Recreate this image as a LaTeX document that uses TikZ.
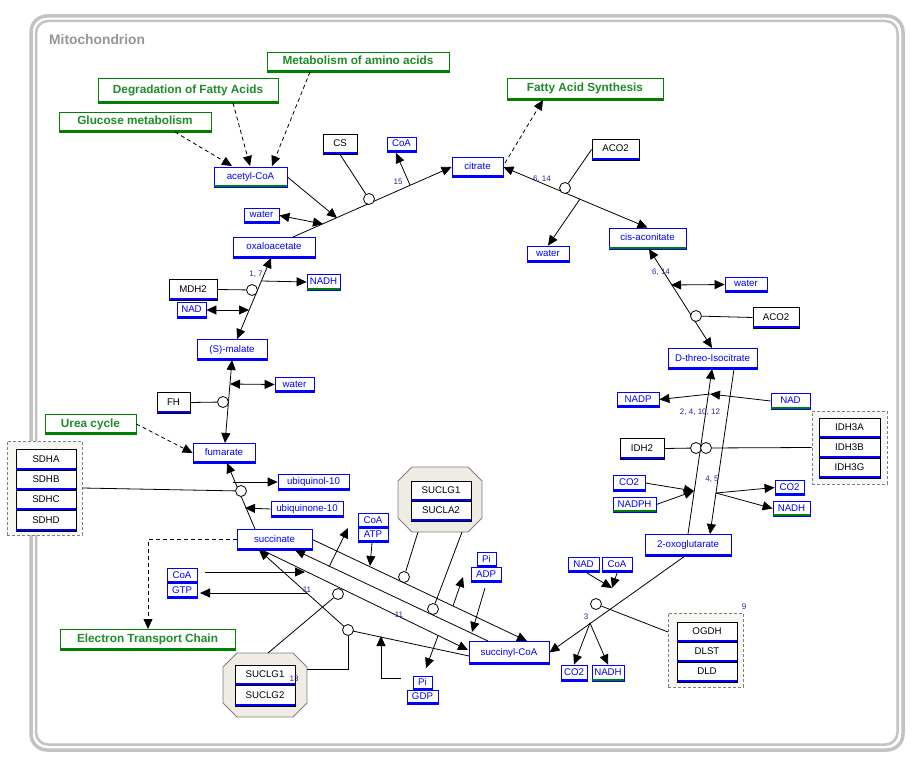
\documentclass[tikz,border=0pt]{standalone}
\usepackage{fontspec}
\setmainfont{Liberation Sans}
\usetikzlibrary{arrows.meta}
\definecolor{pvblue}{RGB}{0,0,255}
\definecolor{pvgreen}{RGB}{0,128,0}
\definecolor{lgreen}{RGB}{30,140,40}
\definecolor{framegray}{RGB}{195,195,195}
\definecolor{numblue}{RGB}{40,40,150}
\definecolor{grpfill}{RGB}{247,247,243}
\definecolor{octfill}{RGB}{238,236,228}
\definecolor{grpline}{RGB}{128,128,128}
\definecolor{mitogray}{RGB}{150,150,150}
\tikzset{
 metab/.style={draw=pvblue, text=pvblue, fill=white, line width=0.8pt, inner sep=0pt, font=\fontsize{9.7}{11}\selectfont, text height=7pt, text depth=2pt},
 gene/.style={draw=black, text=black, fill=white, line width=0.8pt, inner sep=0pt, font=\fontsize{9.7}{11}\selectfont, text height=7pt, text depth=2pt},
 lbl/.style={draw=pvgreen, text=lgreen, fill=white, line width=0.8pt, inner sep=0pt, font=\fontsize{11.8}{13}\selectfont\bfseries, text height=8.5pt, text depth=2.5pt},
 conn/.style={line width=0.8pt, draw=black},
 arr/.style={conn, -{Triangle[length=10pt,width=9pt]}},
 darr/.style={conn, {Triangle[length=10pt,width=9pt]}-{Triangle[length=10pt,width=9pt]}},
 dasharr/.style={arr, dash pattern=on 4pt off 3pt},
 cat/.style={circle, draw=black, fill=white, line width=0.8pt, minimum size=11pt, inner sep=0pt},
 num/.style={text=numblue, font=\fontsize{8}{9}\selectfont, inner sep=0pt},
 grp/.style={draw=grpline, fill=grpfill, dash pattern=on 3pt off 2pt, line width=0.7pt, inner sep=0pt},
 octs/.style={draw=grpline, fill=octfill, line width=0.8pt},
}
% name, x1, y1, x2, y2, style, text, bar colour
\newcommand\ent[8]{\node[#6, minimum width={(#4-#2)*1pt}, minimum height={(#5-#3)*1pt}] (#1) at ({(#2+#4)/2},{(#3+#5)/2}) {#7};
\draw[line width=2.7pt, #8] ([yshift=1.35pt]#1.south west) -- ([yshift=1.35pt]#1.south east);}
\newcommand\grpbox[5]{\node[grp, minimum width={(#4-#2)*1pt}, minimum height={(#5-#3)*1pt}] (#1) at ({(#2+#4)/2},{(#3+#5)/2}) {};}
\newcommand\octa[5]{\draw[octs] ({#1+#5},#2) -- ({#3-#5},#2) -- (#3,{#2+#5}) -- (#3,{#4-#5}) -- ({#3-#5},#4) -- ({#1+#5},#4) -- (#1,{#4-#5}) -- (#1,{#2+#5}) -- cycle;}
\begin{document}
\begin{tikzpicture}[x=1pt,y=-1pt]
\useasboundingbox (0,0) rectangle (915,759);
\fill[white] (0,0) rectangle (915,759);
% frame
\draw[framegray, line width=3.5pt, rounded corners=16pt] (31,16) rectangle (903,750);
\draw[framegray, line width=2.5pt, rounded corners=12pt] (36,21) rectangle (897.5,744.5);
\node[anchor=west, text=mitogray, font=\fontsize{13.8}{15}\selectfont\bfseries, inner sep=0pt] (mito) at (49,40) {Mitochondrion};

% groups
\grpbox{sdhg}{7}{441}{82}{535}
\grpbox{idh3g}{812}{411}{887}{484}
\grpbox{ogdhg}{668}{613}{743}{687}
\octa{398}{467}{482}{532}{14}
\octa{223}{653}{307}{717}{14}

% pathway labels
\ent{aa}{267}{52}{449}{72}{lbl}{Metabolism of amino acids}{pvgreen}
\ent{dfa}{98}{78}{278}{103}{lbl}{Degradation of Fatty Acids}{pvgreen}
\ent{glu}{59}{112}{211}{132}{lbl}{Glucose metabolism}{pvgreen}
\ent{fas}{507}{78}{663}{100}{lbl}{Fatty Acid Synthesis}{pvgreen}
\ent{urea}{45}{414}{136}{434}{lbl}{Urea cycle}{pvgreen}
\ent{etc}{60}{629}{235}{650}{lbl}{Electron Transport Chain}{pvgreen}

% metabolites
\ent{acoa}{214}{167}{287}{187}{metab}{acetyl-CoA}{pvgreen}
\ent{coa1}{387}{137}{416}{152}{metab}{CoA}{pvblue}
\ent{cit}{452}{157}{503}{177}{metab}{citrate}{pvblue}
\ent{wat1}{244}{208}{279}{223}{metab}{water}{pvblue}
\ent{oaa}{233}{237}{315}{258}{metab}{oxaloacetate}{pvblue}
\ent{nadh1}{307}{274}{340}{290}{metab}{NADH}{pvgreen}
\ent{nad1}{177}{302}{206}{318}{metab}{NAD}{pvblue}
\ent{mal}{197}{339}{267}{360}{metab}{(S)-malate}{pvblue}
\ent{wat2}{275}{377}{314}{392}{metab}{water}{pvblue}
\ent{fum}{193}{443}{255}{463}{metab}{fumarate}{pvblue}
\ent{uql}{278}{474}{349}{490}{metab}{ubiquinol-10}{pvblue}
\ent{uqn}{271}{501}{343}{517}{metab}{ubiquinone-10}{pvblue}
\ent{suc}{237}{529}{312}{550}{metab}{succinate}{pvblue}
\ent{coa2}{358}{513}{388}{528}{metab}{CoA}{pvblue}
\ent{atp}{358}{528}{388}{542}{metab}{ATP}{pvblue}
\ent{coa3}{167}{568}{197}{583}{metab}{CoA}{pvblue}
\ent{gtp}{167}{583}{197}{598}{metab}{GTP}{pvblue}
\ent{pi1}{477}{552}{496}{567}{metab}{Pi}{pvblue}
\ent{adp}{471}{567}{501}{582}{metab}{ADP}{pvblue}
\ent{sca}{469}{641}{549}{664}{metab}{succinyl-CoA}{pvblue}
\ent{pi2}{413}{676}{432}{690}{metab}{Pi}{pvblue}
\ent{gdp}{407}{690}{438}{704}{metab}{GDP}{pvblue}
\ent{wat3}{527}{246}{569}{262}{metab}{water}{pvblue}
\ent{cis}{609}{228}{686}{249}{metab}{cis-aconitate}{pvgreen}
\ent{wat4}{725}{277}{767}{292}{metab}{water}{pvblue}
\ent{iso}{668}{348}{757}{369}{metab}{D-threo-Isocitrate}{pvblue}
\ent{nadp}{617}{392}{659}{407}{metab}{NADP}{pvblue}
\ent{nad2}{771}{393}{810}{409}{metab}{NAD}{pvgreen}
\ent{co2a}{613}{475}{645}{491}{metab}{CO2}{pvblue}
\ent{nadph}{613}{497}{656}{512}{metab}{NADPH}{pvgreen}
\ent{co2b}{775}{480}{804}{495}{metab}{CO2}{pvblue}
\ent{nadh2}{773}{501}{810}{516}{metab}{NADH}{pvgreen}
\ent{oxo}{645}{534}{731}{556}{metab}{2-oxoglutarate}{pvblue}
\ent{nad3}{568}{557}{599}{572}{metab}{NAD}{pvblue}
\ent{coa4}{602}{557}{632}{572}{metab}{CoA}{pvblue}
\ent{co2c}{561}{665}{587}{681}{metab}{CO2}{pvblue}
\ent{nadh3}{592}{665}{624}{681}{metab}{NADH}{pvgreen}

% genes
\ent{cs}{323}{134}{357}{154}{gene}{CS}{pvblue}
\ent{aco2a}{592}{139}{639}{160}{gene}{ACO2}{pvblue}
\ent{aco2b}{753}{307}{799}{328}{gene}{ACO2}{pvblue}
\ent{mdh2}{169}{279}{217}{300}{gene}{MDH2}{pvblue}
\ent{fh}{157}{392}{190}{413}{gene}{FH}{pvblue}
\ent{idh2}{620}{438}{664}{459}{gene}{IDH2}{pvblue}
\ent{sdha}{16}{449}{76}{470}{gene}{SDHA}{pvblue}
\ent{sdhb}{16}{470}{76}{490}{gene}{SDHB}{pvblue}
\ent{sdhc}{16}{490}{76}{510}{gene}{SDHC}{pvblue}
\ent{sdhd}{16}{510}{76}{531}{gene}{SDHD}{pvblue}
\ent{idh3a}{819}{418}{880}{438}{gene}{IDH3A}{pvblue}
\ent{idh3b}{819}{438}{880}{458}{gene}{IDH3B}{pvblue}
\ent{idh3c}{819}{458}{880}{478}{gene}{IDH3G}{pvblue}
\ent{ogdh}{677}{622}{737}{642}{gene}{OGDH}{pvblue}
\ent{dlst}{677}{642}{737}{662}{gene}{DLST}{pvblue}
\ent{dld}{677}{662}{737}{682}{gene}{DLD}{pvblue}
\ent{sga}{411}{481}{471}{501}{gene}{SUCLG1}{pvblue}
\ent{sla}{411}{501}{471}{521}{gene}{SUCLA2}{pvblue}
\ent{sgb}{235}{665}{295}{685}{gene}{SUCLG1}{pvblue}
\ent{sgc}{235}{685}{295}{706}{gene}{SUCLG2}{pvblue}

% ---- reaction lines ----
% citrate synthase
\coordinate (p15a) at (293,237);
\coordinate (p15b) at (337,218);
\coordinate (p15c) at (323,224);
\coordinate (p15d) at (410,185);
\coordinate (p15e) at (396,153);
\draw[arr] (p15a) -- (cit.west);
\draw[arr] (acoa.east) -- (p15b);
\draw[darr] (wat1.east) -- (p15c);
\draw[arr] (p15d) -- (p15e);
% pathway inputs to acetyl-CoA
\coordinate (g1) at (175,132); \coordinate (g1t) at (232,166);
\coordinate (g2) at (233,103); \coordinate (g2t) at (250,166);
\coordinate (g3) at (310,72);  \coordinate (g3t) at (272,166);
\draw[dasharr] (g1) -- (g1t);
\draw[dasharr] (g2) -- (g2t);
\draw[dasharr] (g3) -- (g3t);
% citrate -> fatty acid synthesis
\coordinate (fs0) at (505,163); \coordinate (fs1) at (543,100);
\draw[dasharr] (fs0) -- (fs1);
% aconitase 1
\coordinate (a1w) at (580,199);
\draw[darr] (cit.east) -- (cis.north);
\draw[arr] (a1w) -- (wat3.north);
% aconitase 2
\coordinate (a2s) at (649,249); \coordinate (a2e) at (712,348); \coordinate (a2w) at (671,285);
\draw[darr] (a2s) -- (a2e);
\draw[darr] (a2w) -- (wat4.west);
% isocitrate dehydrogenase
\coordinate (ila) at (688,534); \coordinate (ilb) at (712,369);
\coordinate (irb) at (734,369); \coordinate (ira) at (710,534);
\coordinate (ina) at (710,394);
\coordinate (i45a) at (694,491); \coordinate (i45b) at (716,493);
\draw[arr] (ila) -- (ilb);
\draw[arr] (irb) -- (ira);
\draw[arr] (nad2.west) -- (ina);
\draw[arr] (ina) -- (nadp.east);
\draw[arr] (co2a.east) -- (i45a);
\draw[arr] (nadph.east) -- (i45a);
\draw[arr] (i45b) -- (co2b.west);
\draw[arr] (i45b) -- (nadh2.west);
% 2-oxoglutarate dehydrogenase
\coordinate (o0) at (685,556); \coordinate (o3) at (590,623);
\coordinate (on) at (612,588); \coordinate (on1) at (587,573); \coordinate (on2) at (617,573);
\draw[arr] (o0) -- (sca.east);
\draw[arr] (o3) -- (co2c.north);
\draw[arr] (o3) -- (nadh3.north);
\draw[arr] (on1) -- (on);
\draw[arr] (on2) -- (on);
% succinate dehydrogenase
\coordinate (sd0) at (255,529); \coordinate (sd1) at (227,463);
\coordinate (sq1) at (233,482); \coordinate (sq2) at (245,508);
\coordinate (etcc) at (148,539.5); \coordinate (etct) at (148,629);
\draw[arr] (sd0) -- (sd1);
\draw[arr] (sq1) -- (uql.west);
\draw[arr] (uqn.west) -- (sq2);
\draw[dasharr] (suc.west) -- (etcc) -- (etct);
\draw[dasharr] (urea.east) -- (fum.west);
% fumarase
\coordinate (f0) at (225,443); \coordinate (f1) at (232,360); \coordinate (fw) at (230,384);
\draw[darr] (f0) -- (f1);
\draw[darr] (fw) -- (wat2.west);
% malate dehydrogenase
\coordinate (m0) at (237,339); \coordinate (m1) at (271,258);
\coordinate (mn) at (262,281); \coordinate (mnd) at (249,310);
\draw[darr] (m0) -- (m1);
\draw[arr] (mn) -- (nadh1.west);
\draw[darr] (nad1.east) -- (mnd);
% succinyl-CoA synthetase
\coordinate (lAe) at (527,641);
\coordinate (lBs) at (488,641); \coordinate (lBe) at (295,550);
\coordinate (lCs) at (262,550); \coordinate (lCe) at (468,650);
\coordinate (lDs) at (469,656); \coordinate (lDm) at (348,630); \coordinate (lDe) at (259,550);
\draw[arr] (suc.east) -- (lAe);
\draw[arr] (lBs) -- (lBe);
\draw[arr] (lCs) -- (lCe);
\draw[arr] (lDs) -- (lDm) -- (lDe);
\coordinate (at0) at (372,543); \coordinate (at1) at (370,566);
\coordinate (ad0) at (453,606); \coordinate (ad1) at (463,577);
\coordinate (bd0) at (485,588); \coordinate (bd1) at (472,632);
\coordinate (bc0) at (329,567); \coordinate (bc1) at (348,528);
\coordinate (cc0) at (205,572); \coordinate (cc1) at (305,572);
\coordinate (dg0) at (308,593); \coordinate (dg1) at (200,593);
\coordinate (cg0) at (438,636); \coordinate (cg1) at (426,668);
\coordinate (dp0) at (401,678); \coordinate (dp1) at (381,678); \coordinate (dp2) at (381,636);
\draw[arr] (at0) -- (at1);
\draw[arr] (ad0) -- (ad1);
\draw[arr] (bd0) -- (bd1);
\draw[arr] (bc0) -- (bc1);
\draw[arr] (cc0) -- (cc1);
\draw[arr] (dg0) -- (dg1);
\draw[arr] (cg0) -- (cg1);
\draw[arr] (dp0) -- (dp1) -- (dp2);

% ---- catalysis ----
\node[cat] (c15) at (369,199) {};
\node[cat] (ca1) at (565,188) {};
\node[cat] (ca2) at (696,316) {};
\node[cat] (ci1) at (696,448) {};
\node[cat] (ci2) at (706,448) {};
\node[cat] (co) at (596,604) {};
\node[cat] (csd) at (241,491) {};
\node[cat] (cfh) at (223,402) {};
\node[cat] (cmd) at (252,290) {};
\node[cat] (cA) at (404,577) {};
\node[cat] (cB) at (433,609) {};
\node[cat] (cC) at (338,594) {};
\node[cat] (cD) at (348,630) {};
\coordinate (ogw) at (668,632);
\coordinate (o1a) at (418,532); \coordinate (o1b) at (462,532);
\coordinate (o2a) at (268,653); \coordinate (o2b) at (307,669); \coordinate (o2c) at (348,669);
\draw[conn] (cs.south) -- (c15);
\draw[conn] (aco2a.west) -- (ca1);
\draw[conn] (aco2b.west) -- (ca2);
\draw[conn] (idh2.east) -- (ci1);
\draw[conn] (idh3g.west) -- (ci2);
\draw[conn] (ogw) -- (co);
\draw[conn] (sdhg.east) -- (csd);
\draw[conn] (fh.east) -- (cfh);
\draw[conn] (mdh2.east) -- (cmd);
\draw[conn] (o1a) -- (cA);
\draw[conn] (o1b) -- (cB);
\draw[conn] (o2a) -- (cC);
\draw[conn] (o2b) -- (o2c) -- (cD);

% ---- reaction numbers ----
\node[num] (n15) at (398,182) {15};
\node[num] (n614a) at (542,179) {6, 14};
\node[num] (n614b) at (661,272) {6, 14};
\node[num] (n17) at (256,274) {1, 7};
\node[num] (n241012) at (700,412) {2, 4, 10, 12};
\node[num] (n45) at (712,479) {4, 5};
\node[num] (n3) at (586,617) {3};
\node[num] (n9) at (744,607) {9};
\node[num] (n11a) at (307,590) {11};
\node[num] (n11b) at (399,615) {11};
\node[num] (n13) at (294,679) {13};
\end{tikzpicture}
\end{document}
